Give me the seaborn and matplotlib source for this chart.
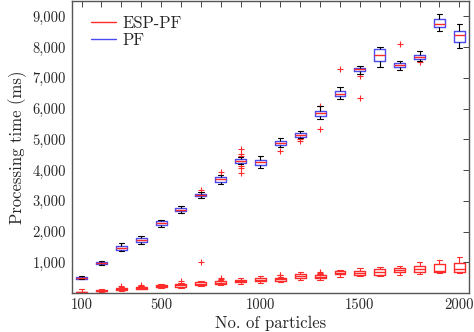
import numpy as np
import pandas as pd
import matplotlib
matplotlib.use("Agg")
import matplotlib.pyplot as plt
import seaborn as sns
from matplotlib.lines import Line2D
from matplotlib.ticker import FuncFormatter

particles = [100, 200, 300, 400, 500, 600, 700, 800, 900, 1000,
             1100, 1200, 1300, 1400, 1500, 1600, 1700, 1800, 1900, 2000]

# PF (blue) five-number summaries
pf_lo  = [455, 925, 1376, 1593, 2157, 2591, 3110, 3560, 4190, 4060, 4745, 5040, 5665, 6320, 7130, 7345, 7240, 7540, 8510, 7970]
pf_q1  = [470, 950, 1408, 1648, 2211, 2656, 3165, 3625, 4235, 4182, 4820, 5090, 5775, 6405, 7220, 7545, 7340, 7610, 8640, 8165]
pf_med = [498, 985, 1480, 1720, 2270, 2715, 3200, 3700, 4290, 4255, 4880, 5140, 5845, 6485, 7280, 7730, 7425, 7675, 8760, 8385]
pf_q3  = [525, 1020, 1538, 1778, 2331, 2764, 3240, 3762, 4365, 4345, 4960, 5210, 5920, 6570, 7335, 7945, 7490, 7740, 8920, 8510]
pf_hi  = [560, 1060, 1616, 1843, 2385, 2818, 3290, 3830, 4420, 4475, 5040, 5287, 6070, 6700, 7400, 8000, 7565, 7860, 9085, 8740]
pf_out = [[], [], [], [], [], [], [3360], [3930], [4690, 4525, 4450, 4145, 4060, 3900], [],
          [4615], [5000, 4960], [6100, 5340], [7290], [7075, 6360], [], [8110], [7515], [], []]

# ESP-PF (red) five-number summaries
esp_lo  = [5, 40, 80, 120, 180, 170, 230, 260, 300, 330, 360, 420, 430, 510, 543, 560, 585, 618, 650, 670]
esp_q1  = [20, 60, 110, 150, 200, 215, 270, 300, 350, 385, 400, 480, 480, 608, 585, 585, 673, 673, 693, 693]
esp_med = [35, 75, 130, 175, 225, 250, 310, 340, 390, 440, 450, 560, 530, 650, 655, 690, 750, 790, 720, 800]
esp_q3  = [50, 95, 160, 200, 255, 290, 360, 390, 440, 505, 505, 618, 585, 705, 725, 780, 813, 888, 943, 975]
esp_hi  = [150, 140, 200, 240, 290, 340, 400, 430, 490, 572, 540, 673, 620, 748, 803, 835, 888, 998, 1083, 1160]
esp_out = [[], [], [240], [270], [], [400], [1020], [478, 460], [], [],
           [585, 600], [], [693, 660], [], [], [], [], [], [], []]

series_labels = ["ESP-PF", "PF"]
xtick_labels = [100, 500, 1000, 1500, 2000]


def table(lo, q1, med, q3, hi):
    rows = []
    for i, p in enumerate(particles):
        for v in (lo[i], q1[i], med[i], q3[i], hi[i]):
            rows.append({"particles": p, "time": v})
    return pd.DataFrame(rows)


def out_table(outs):
    rows = [{"particles": p, "time": v} for p, vs in zip(particles, outs) for v in vs]
    return pd.DataFrame(rows)


pf_df = table(pf_lo, pf_q1, pf_med, pf_q3, pf_hi)
esp_df = table(esp_lo, esp_q1, esp_med, esp_q3, esp_hi)
pf_o = out_table(pf_out)
esp_o = out_table(esp_out)

sns.set_theme(style="white")
plt.rcParams["font.family"] = ["cmr10", "DejaVu Serif"]
plt.rcParams["axes.unicode_minus"] = False
plt.rcParams["mathtext.fontset"] = "cm"

fig = plt.figure(figsize=(4.74, 3.32), dpi=100)
ax = fig.add_axes([0.151, 0.117, 0.839, 0.880])

blue = "#4a4af0"
red = "#ff2a2a"

sns.boxplot(data=pf_df, x="particles", y="time", native_scale=True, ax=ax,
            whis=(0, 100), width=0.55, fill=False, color=blue, showfliers=False,
            linewidth=1.0,
            boxprops={"color": blue, "linewidth": 1.0},
            medianprops={"color": red, "linewidth": 1.0},
            whiskerprops={"color": "black", "linewidth": 0.8},
            capprops={"color": "black", "linewidth": 0.8})

sns.boxplot(data=esp_df, x="particles", y="time", native_scale=True, ax=ax,
            whis=(0, 100), width=0.55, fill=False, color=red, showfliers=False,
            linewidth=1.0,
            boxprops={"color": red, "linewidth": 1.0},
            medianprops={"color": red, "linewidth": 1.0},
            whiskerprops={"color": red, "linewidth": 0.8},
            capprops={"color": red, "linewidth": 0.8})

sns.scatterplot(data=pf_o, x="particles", y="time", ax=ax, marker="+", color=red,
                s=24, linewidth=0.8, legend=False)
sns.scatterplot(data=esp_o, x="particles", y="time", ax=ax, marker="+", color=red,
                s=24, linewidth=0.8, legend=False)

ax.set_xlim(50, 2050)
ax.set_ylim(0, 9500)
ax.set_xticks(particles)
ax.set_xticklabels([str(p) if p in xtick_labels else "" for p in particles])
ax.set_yticks([1000, 2000, 3000, 4000, 5000, 6000, 7000, 8000, 9000])
ax.yaxis.set_major_formatter(FuncFormatter(lambda v, _: f"{int(v):,}"))
ax.tick_params(axis="both", direction="in", top=True, right=True, length=4,
               width=0.7, color="#444444", labelsize=10.5, pad=4)
for s in ax.spines.values():
    s.set_color("#555555")
    s.set_linewidth(1.0)

ax.set_xlabel("No. of particles", fontsize=12, labelpad=2)
ax.set_ylabel("Processing time (ms)", fontsize=12, labelpad=4)
ax.grid(False)

handles = [Line2D([0], [0], color=red, lw=1.0), Line2D([0], [0], color=blue, lw=1.0)]
ax.legend(handles, series_labels, loc="upper left", frameon=False, fontsize=12,
          handlelength=1.5, handletextpad=0.4, labelspacing=0.1,
          borderaxespad=0.3, bbox_to_anchor=(0.02, 0.99))

fig.savefig("out.png", dpi=100)
